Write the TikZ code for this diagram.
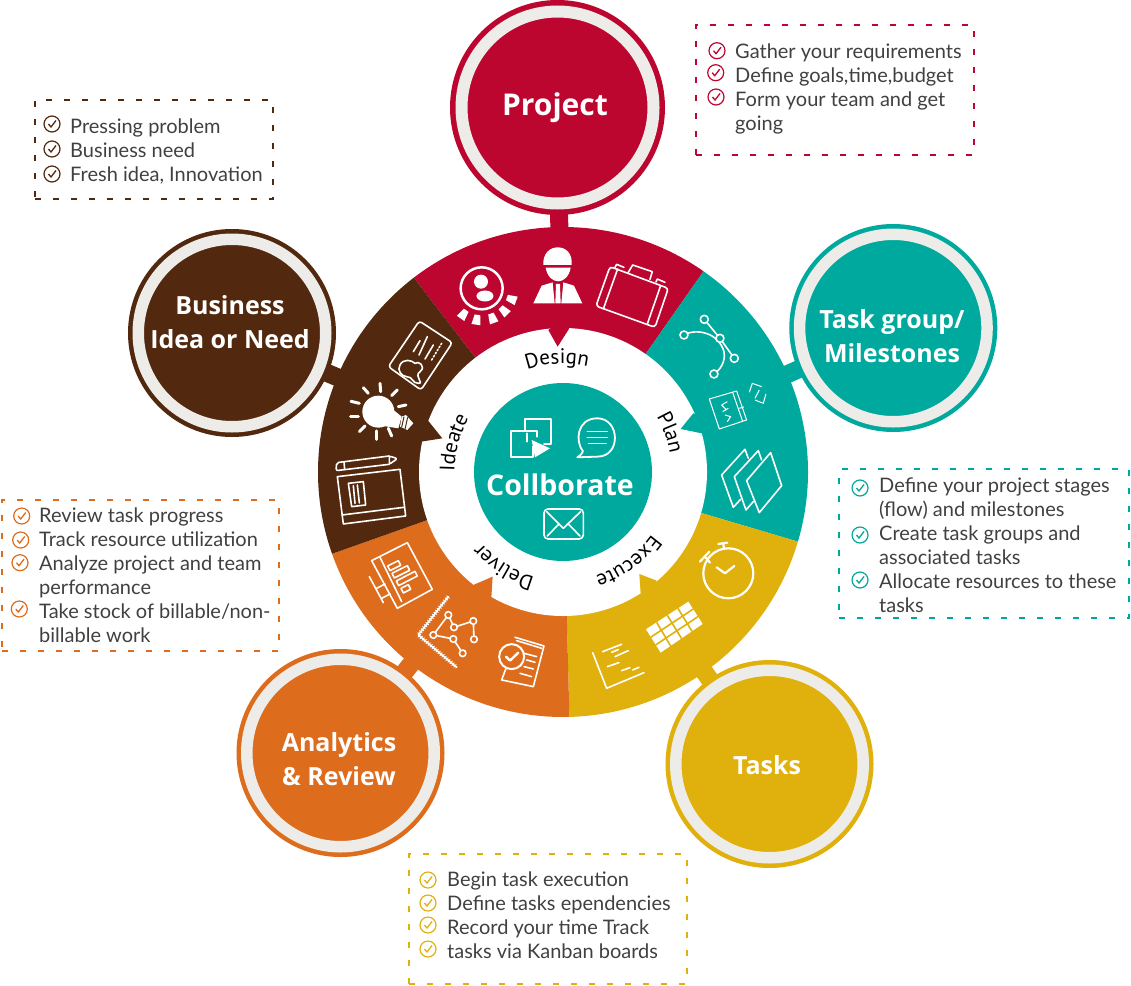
\documentclass[tikz,border=0pt]{standalone}
\usepackage{fontspec}
\setmainfont{Lato}
\newfontfamily\titlefont{Open Sans}
\newfontfamily\arcfont{PT Sans}
\usetikzlibrary{decorations.text}
\definecolor{projectred}{HTML}{BC052F}
\definecolor{taskteal}{HTML}{00A99D}
\definecolor{taskyellow}{HTML}{E0B00C}
\definecolor{revieworange}{HTML}{DD6C1C}
\definecolor{ideabrown}{HTML}{52280E}
\definecolor{ringgray}{HTML}{EDECE8}
\definecolor{notegray}{HTML}{404040}
\tikzset
{
    satellite/.style = {circle, minimum size=187.5pt, inner sep=0pt, outer sep=10.25pt, draw=#1, fill=#1, line width=4.5pt, double=ringgray, double distance=11.5pt},
    link/.style      = {line width=18pt, shorten <=-3pt},
    hubnode/.style   = {circle, fill=taskteal, minimum size=178pt, inner sep=0pt},
    wellnode/.style  = {circle, fill=white, minimum size=288pt, inner sep=0pt},
    title/.style     = {text=white, align=center, font=\titlefont\bfseries\fontsize{25}{33.5}\selectfont},
    notebox/.style   = {draw=#1, line width=2.8pt, dash pattern=on 6pt off 12pt, minimum width=0pt, inner sep=0pt},
    notetext/.style  = {anchor=north west, align=left, inner sep=0pt, text=notegray, font=\fontsize{20}{24}\selectfont},
    icon/.style      = {draw=white, line width=1.6pt, line join=round, line cap=round},
    thinicon/.style  = {draw=white, line width=1pt, line join=round},
    inset/.style     = {shift={(320,220)}, x=0.3333pt, y=-0.3333pt}
}
\newcommand\segment[3]{\fill[#1] (c) -- ([shift={(#2:245pt)}]c) arc[start angle=#2, end angle=#3, radius=245pt] -- cycle;}
\newcommand\notecheck[3]{%
\draw[#1, line width=1.2pt] (#2,#3) circle[radius=8pt];
\draw[#1, line width=1.3pt] (#2-3.5,#3) -- (#2-1,#3+3) -- (#2+4,#3-3.5);}
\newcommand\arclabel[2]{\path[decorate, decoration={text along path, text align=center, text={|\arcfont\fontsize{21}{21}\selectfont|#2}}]
 ([shift={(#1+45:108.5pt)}]c) arc[start angle=#1+45, end angle=#1-45, radius=108.5pt];}
\begin{document}
\begin{tikzpicture}[x=1pt, y=-1pt]
\useasboundingbox (0,0) rectangle (1131,985);
\coordinate (c) at (563,472);
% satellites and their links
\node(project) [satellite=projectred, minimum size=192pt, outer sep=11.5pt, line width=5.5pt, double distance=12pt] at (557.5,107.5) {};
\node(milestones) [satellite=taskteal] at (893.3,328) {};
\node(tasks) [satellite=taskyellow] at (769.5,764) {};
\node(review) [satellite=revieworange] at (340.5,753) {};
\node(idea) [satellite=ideabrown] at (232,333) {};
\draw[link, projectred] (project) -- (c);
\draw[link, taskteal] (milestones) -- (c);
\draw[link, taskyellow] (tasks) -- (c);
\draw[link, revieworange] (review) -- (c);
\draw[link, ideabrown] (idea) -- (c);
\node(projecttitle) [title, font=\titlefont\bfseries\fontsize{30}{34}\selectfont] at (555,108) {Project};
\node(milestonestitle) [title] at (892,336) {Task group/\\Milestones};
\node(taskstitle) [title] at (767,765) {Tasks};
\node(reviewtitle) [title] at (339,759) {Analytics\\\& Review};
\node(ideatitle) [title] at (230,322) {Business\\Idea or Need};
% ring
\segment{projectred}{127.5}{55}
\segment{taskteal}{55}{-16.5}
\segment{taskyellow}{-16.5}{-88.5}
\segment{revieworange}{-88.5}{-160.5}
\segment{ideabrown}{-160.5}{-232.5}
\node(well) [wellnode] at (c) {};
\begin{scope}[inset]
\fill[projectred] (713,380) -- (685,330) -- (715,310) -- (748,325) -- cycle;
\fill[taskteal] (1082,627) -- (1120,580) -- (1170,600) -- (1145,640) -- cycle;
\fill[taskyellow] (958,1062) -- (1010,1082) -- (1000,1130) -- (962,1120) -- cycle;
\fill[revieworange] (518,1070) -- (460,1095) -- (470,1130) -- (514,1135) -- cycle;
\fill[ideabrown] (367,655) -- (325,603) -- (290,620) -- (303,665) -- cycle;
\end{scope}
\node(hub) [hubnode] at (c) {};
\node(hubtitle) [title, font=\titlefont\bfseries\fontsize{28.5}{34}\selectfont] at (560,485) {Collborate};
\arclabel{93}{Design}
\arclabel{20}{Plan}
\arclabel{-54}{Execute}
\arclabel{-122}{Deliver}
\arclabel{165}{Ideate}
% icons, red part
\begin{scope}[inset]
\draw[icon, line width=2.5pt] (485,205) circle[radius=21pt];
\fill[white] (483,185) circle[radius=7pt];
\fill[white] (495,228) ellipse[x radius=8.5pt, y radius=5.5pt];
\coordinate (award) at (485,205);
\foreach \a in {-125,-99,-70,-45,-20}
  \fill[white] ([shift={(\a-6:27pt)}]award) -- ([shift={(\a+6:27pt)}]award) -- ([shift={(\a+7:37pt)}]award) -- ([shift={(\a-7:37pt)}]award) -- cycle;
\fill[white] (670,135) .. controls (668,100) and (690,82) .. (713,82) .. controls (738,82) and (758,100) .. (755,135) -- cycle;
\fill[white] (677,143) -- (752,143) .. controls (748,170) and (730,184) .. (715,184) .. controls (698,184) and (682,170) .. (677,143) -- cycle;
\fill[white] (640,250) -- (665,197) -- (698,187) -- (704,250) -- cycle;
\fill[white] (724,250) -- (730,187) -- (762,197) -- (787,250) -- cycle;
\fill[white] (708,192) -- (720,192) -- (722,250) -- (706,250) -- cycle;
\draw[icon, rounded corners=3pt] (870,140) -- (1045,205) -- (1005,322) -- (828,258) -- cycle;
\draw[icon] (893,147) -- (850,267) (1022,197) -- (982,312);
\draw[icon] (925,157) -- (938,135) -- (997,155) -- (990,178);
\draw[icon] (885,142) -- (890,133) -- (912,142) (1008,186) -- (1012,177) -- (1035,187);
% teal part
\draw[icon] (1092,345) .. controls (1125,325) and (1195,335) .. (1212,395) .. controls (1218,425) and (1200,450) .. (1182,462);
\draw[icon] (1153,298) -- (1200,355) -- (1243,415);
\foreach \p in {(1092,345),(1153,298),(1200,355),(1243,415),(1182,462)}
  \filldraw[icon, fill=taskteal] \p circle[radius=4pt];
\draw[thinicon] (1168,537) -- (1250,513) -- (1280,600) -- (1198,627) -- cycle;
\draw[thinicon] (1238,517) -- (1268,604) (1258,565) -- (1272,561);
\draw[thinicon] (1222,545) -- (1205,555) -- (1220,570) (1208,575) -- (1225,565) (1215,585) -- (1232,590) -- (1222,605);
\draw[thinicon] (1325,500) -- (1297,490) -- (1288,517) (1318,510) -- (1305,535) (1338,522) -- (1330,550) -- (1305,540);
\draw[icon] (1285,715) -- (1275,688) -- (1205,765) -- (1240,862) -- (1262,838);
\draw[icon] (1325,720) -- (1315,692) -- (1243,770) -- (1278,870) -- (1300,845);
\draw[icon] (1280,782) -- (1352,698) -- (1385,797) -- (1318,878) -- cycle;
% yellow part
\draw[icon, line width=2.2pt] (1225,1060) circle[radius=25pt];
\draw[icon, line width=2.2pt] (1212,985) -- (1210,972) (1195,972) -- (1222,968);
\draw[icon, line width=2.2pt] (1155,1010) -- (1170,1028) (1140,1025) -- (1168,995);
\draw[icon, line width=2.2pt] (1190,1042) -- (1215,1060) -- (1243,1038);
\fill[white] (978,1228) -- (1105,1145) -- (1148,1212) -- (1022,1298) -- cycle;
\draw[taskyellow, line width=1.6pt] (992,1252) -- (1120,1167) (1007,1275) -- (1134,1190);
\draw[taskyellow, line width=1.6pt] (1010,1207) -- (1052,1278) (1042,1186) -- (1085,1256) (1074,1165) -- (1116,1234);
\draw[icon] (818,1298) -- (860,1405) -- (972,1358);
\draw[icon] (848,1295) -- (905,1273) (885,1310) -- (925,1292) (862,1340) -- (897,1328) (905,1352) -- (930,1343) (938,1350) -- (957,1342) (875,1297) -- (895,1289);
% orange part
\draw[icon] (155,1022) -- (262,968) -- (337,1108) -- (232,1165) -- cycle;
\draw[icon] (180,1012) -- (245,1145);
\draw[icon] (148,1070) -- (190,1148) (170,1105) -- (195,1092) (185,1135) -- (210,1122);
\draw[icon] (203,1038) -- (235,1022) -- (242,1036) -- (210,1052) -- cycle;
\draw[icon] (216,1060) -- (262,1037) -- (269,1051) -- (223,1074) -- cycle;
\draw[icon] (229,1083) -- (285,1054) -- (292,1068) -- (236,1097) -- cycle;
\draw[icon] (243,1105) -- (265,1094) -- (272,1108) -- (250,1119) -- cycle;
\draw[icon] (385,1130) -- (295,1245) -- (410,1342);
\draw[white, line width=4pt, dash pattern=on 0.9pt off 1.7pt] (385,1130) -- (295,1245) -- (410,1342);
\draw[icon] (340,1245) -- (385,1185) -- (402,1222) -- (460,1203) -- (462,1258) (340,1245) -- (400,1257) -- (428,1300);
\foreach \p in {(385,1185),(402,1222),(460,1203),(462,1258),(340,1245),(400,1257),(428,1300)}
  \filldraw[icon, fill=revieworange] \p circle[radius=3.3pt];
\draw[icon] (585,1252) -- (672,1278) -- (640,1400) -- (545,1380) -- (558,1345);
\draw[icon, line width=2pt] (575,1310) circle[radius=12.5pt];
\draw[icon, line width=2.4pt] (558,1310) -- (570,1322) -- (595,1298);
\draw[icon] (612,1300) -- (650,1310) (620,1320) -- (645,1327) (612,1340) -- (640,1347) (600,1360) -- (635,1370);
\draw[icon] (590,1262) -- (665,1285);
% brown part
\draw[icon, rounded corners=3pt] (298,303) -- (397,368) -- (303,510) -- (205,440) -- cycle;
\draw[icon] (280,395) -- (300,362) (297,405) -- (322,350) (315,417) -- (340,375);
\draw[icon, dotted] (335,420) -- (365,370);
\draw[icon] (240,435) .. controls (250,415) and (275,420) .. (285,430) .. controls (295,420) and (320,440) .. (300,455) .. controls (280,470) and (315,490) .. (295,490) .. controls (275,490) and (280,470) .. (260,470) .. controls (245,470) and (230,450) .. (240,435) -- cycle;
\fill[white] (175,575) circle[radius=16pt];
\fill[white] (190,545) -- (245,590) -- (235,625) -- (170,615) -- cycle;
\fill[white] (245,590) -- (258,585) -- (280,610) -- (262,630) -- (240,620) -- cycle;
\draw[ideabrown, line width=1pt] (252,590) -- (245,622) (263,592) -- (255,628);
\foreach \xa/\ya/\xb/\yb in {93/544/118/550,130/503/145/520,180/490/182/515,232/510/215/527,258/555/235/560,92/590/115/590,118/635/135/618,168/658/168/633,215/648/205/625}
  \draw[icon, line width=3pt] (\xa,\ya) -- (\xb,\yb);
\draw[icon, rounded corners=2pt] (208,708) -- (50,728) -- (48,752) -- (208,733) (208,708) -- (232,716) -- (208,733) -- cycle;
\draw[icon] (72,726) -- (74,749);
\draw[icon] (52,770) -- (240,748) -- (257,888) -- (70,912) -- cycle;
\draw[icon] (66,885) -- (252,862);
\draw[icon] (85,790) -- (130,785) -- (137,855) -- (95,860) -- cycle;
\draw[icon] (100,797) -- (105,850) (112,795) -- (118,849);
% centre icons
\draw[icon, line width=1.8pt] (615,630) -- (615,597) -- (692,597) -- (692,672) -- (672,672);
\draw[icon, line width=1.8pt] (640,680) -- (640,710) -- (572,710) -- (572,632) -- (650,632) -- (650,650);
\draw[icon, line width=1.8pt] (622,640) -- (622,665);
\fill[white] (635,660) -- (690,685) -- (645,712) -- cycle;
\draw[icon, line width=1.8pt] (789,694) .. controls (765,665) and (770,595) .. (832,595) .. controls (900,595) and (905,710) .. (832,710) -- (772,712) .. controls (782,705) and (788,700) .. (789,694);
\draw[icon, line width=1.6pt] (802,635) -- (862,635) (802,652) -- (862,652) (806,670) -- (858,670);
\draw[icon, line width=1.6pt, rounded corners=4pt] (672,867) rectangle (790,957);
\draw[icon, line width=1.6pt] (680,875) -- (730,925) -- (782,875) (682,948) -- (717,912) (780,948) -- (745,912);
\end{scope}
% notes
\node(notecard1) [notebox=projectred, minimum width=278pt, minimum height=130pt] at (835,90) {};
\node(notetext1) [notetext] at (735,44) {Gather your requirements\\Define goals,time,budget\\Form your team and get\\going};
\notecheck{projectred}{717}{50.7}
\notecheck{projectred}{715.7}{72.7}
\notecheck{projectred}{716}{97}
\node(notecard2) [notebox=ideabrown, minimum width=238pt, minimum height=99pt] at (154,149.5) {};
\node(notetext2) [notetext] at (70,118.5) {Pressing problem\\Business need\\Fresh idea, Innovation};
\notecheck{ideabrown}{52}{124}
\notecheck{ideabrown}{52}{149}
\notecheck{ideabrown}{52}{174}
\node(notecard3) [notebox=revieworange, minimum width=277pt, minimum height=151pt] at (140.5,575.5) {};
\node(notetext3) [notetext] at (39,507.5) {Review task progress\\Track resource utilization\\Analyze project and team\\performance\\Take stock of billable/non-\\billable work};
\notecheck{revieworange}{21.7}{516}
\notecheck{revieworange}{20.7}{540}
\notecheck{revieworange}{20}{562.7}
\notecheck{revieworange}{19.3}{609}
\node(notecard4) [notebox=taskteal, minimum width=290pt, minimum height=149pt] at (984,543.5) {};
\node(notetext4) [notetext] at (879,477.5) {Define your project stages\\(flow) and milestones\\Create task groups and\\associated tasks\\Allocate resources to these\\tasks};
\notecheck{taskteal}{860}{488}
\notecheck{taskteal}{860}{535}
\notecheck{taskteal}{860}{580}
\node(notecard5) [notebox=taskyellow, minimum width=278pt, minimum height=130pt] at (548,919) {};
\node(notetext5) [notetext] at (447,871.5) {Begin task execution\\Define tasks ependencies\\Record your time Track\\tasks via Kanban boards};
\notecheck{taskyellow}{428}{880}
\notecheck{taskyellow}{428}{903}
\notecheck{taskyellow}{428}{925}
\notecheck{taskyellow}{428}{949}
\end{tikzpicture}
\end{document}
